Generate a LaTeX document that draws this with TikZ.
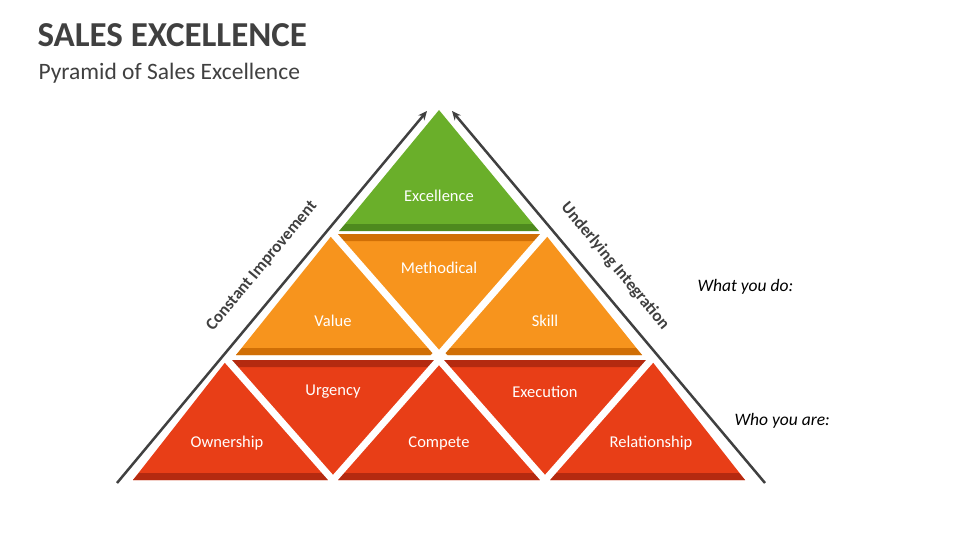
\documentclass[tikz,border=0pt]{standalone}
\usepackage{fontspec}
\setmainfont{Carlito}
\usetikzlibrary{arrows.meta}
\definecolor{gr}{HTML}{6AAF2A}\definecolor{dgr}{HTML}{4E8A1E}
\definecolor{org}{HTML}{F7941D}\definecolor{dorg}{HTML}{D06F06}
\definecolor{rd}{HTML}{E83E17}\definecolor{drd}{HTML}{B42A10}
\definecolor{ink}{HTML}{404040}
\tikzset{lbl/.style={text=white,font=\fontsize{16.5}{18}\selectfont},
 gap/.style={white,line width=7pt},
 side/.style={ink,line width=2.5pt,-{Stealth[length=9pt,width=8pt]}},
 sidelbl/.style={text=ink,font=\bfseries\fontsize{17}{19}\selectfont},
 note/.style={text=black,font=\itshape\fontsize{17.5}{19}\selectfont,anchor=west}}
\begin{document}
\begin{tikzpicture}[x=1pt,y=-1pt]
\useasboundingbox (0,0) rectangle (960,540);
% row 1
\fill[gr] (439,110)--(533,224)--(345,224)--cycle;
\fill[dgr] (345,224)--(533,224)--(539,231)--(339,231)--cycle;
% row 2
\fill[org] (333,234)--(545,234)--(642,355)--(236,355)--cycle;
\fill[dorg] (333,234)--(545,234)--(539,241)--(339,241)--cycle;
\fill[dorg] (242,348)--(433,348)--(439,355)--(236,355)--cycle;
\fill[dorg] (445,348)--(636,348)--(642,355)--(439,355)--cycle;
\draw[gap] (327,227)--(445,362) (433,362)--(551,227);
% row 3
\fill[rd] (227,360)--(651,360)--(745,480)--(133,480)--cycle;
\fill[drd] (227,360)--(439,360)--(433,367)--(233,367)--cycle;
\fill[drd] (439,360)--(651,360)--(645,367)--(445,367)--cycle;
\fill[drd] (139,473)--(327,473)--(333,480)--(133,480)--cycle;
\fill[drd] (339,473)--(539,473)--(545,480)--(333,480)--cycle;
\fill[drd] (551,473)--(739,473)--(745,480)--(545,480)--cycle;
\draw[gap] (221,353)--(339,487) (327,487)--(445,353) (433,353)--(551,487) (539,487)--(657,353);
% labels
\node[lbl] (t1) at (439,196) {Excellence};
\node[lbl] (t2) at (439,268) {Methodical};
\node[lbl] (t3) at (333,321) {Value};
\node[lbl] (t4) at (545,321) {Skill};
\node[lbl] (t5) at (333,392) {Urgency};
\node[lbl] (t6) at (545,392) {Execution};
\node[lbl] (t7) at (227,443) {Ownership};
\node[lbl] (t8) at (439,443) {Compete};
\node[lbl] (t9) at (651,443) {Relationship};
% side arrows
\coordinate (la) at (117,483); \coordinate (lb) at (427,111);
\coordinate (ra) at (765,483); \coordinate (rb) at (452,111);
\draw[side] (la)--(lb);
\draw[side] (ra)--(rb);
\node[sidelbl,rotate=50.2] (cl) at (262,266) {Constant Improvement};
\node[sidelbl,rotate=-50.2] (ui) at (615,266) {Underlying Integration};
\node[note] (w1) at (694,287) {What you do:};
\node[note] (w2) at (731,421) {Who you are:};
\node[anchor=west,font=\bfseries\fontsize{35}{40}\selectfont,text=ink] (ti) at (34,35) {SALES EXCELLENCE};
\node[anchor=west,font=\fontsize{23.5}{27}\selectfont,text=ink] (st) at (35,73) {Pyramid of Sales Excellence};
\end{tikzpicture}
\end{document}
